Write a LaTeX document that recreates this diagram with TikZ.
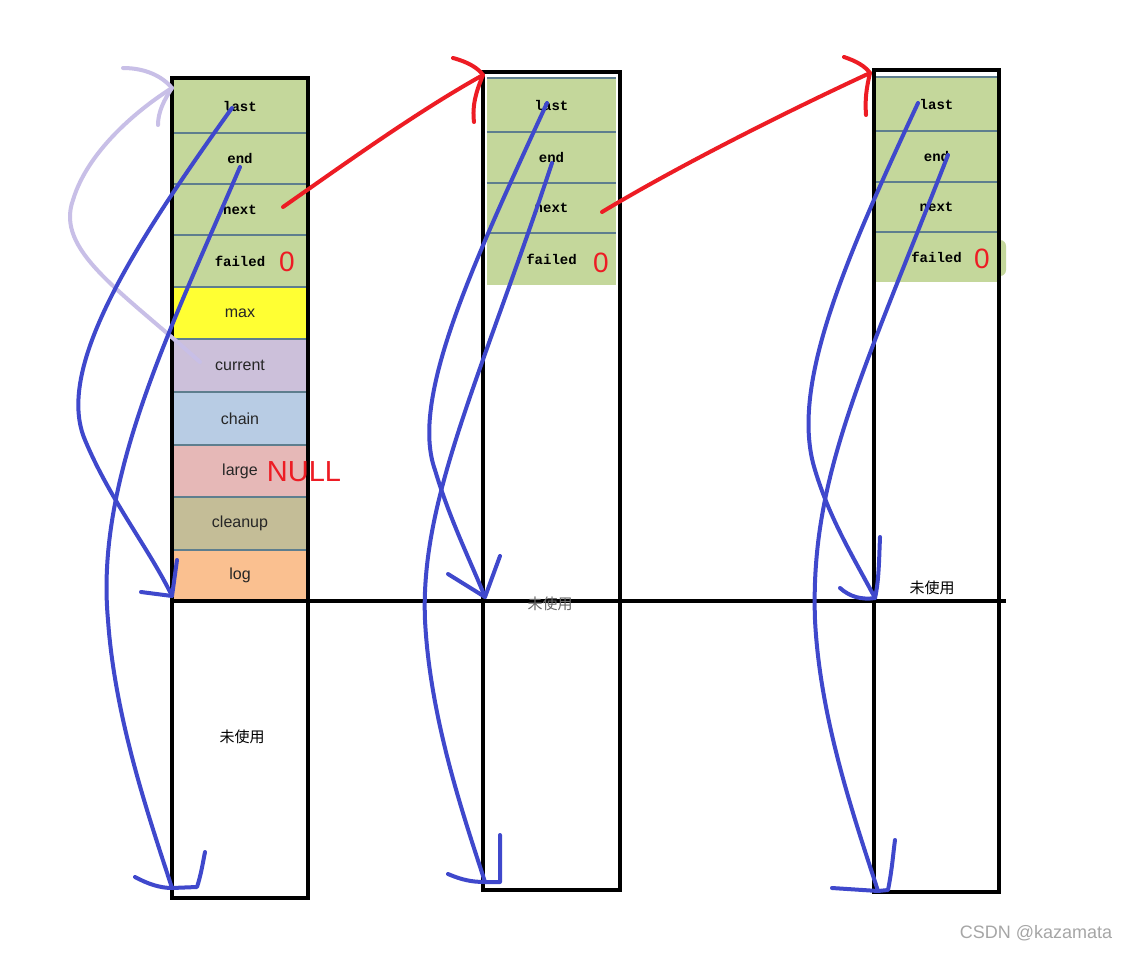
\documentclass[tikz,border=0pt]{standalone}
\usepackage{fontspec}
\setmainfont{Liberation Sans}
\newfontfamily\monof{Liberation Mono}
\newfontfamily\cjk{Noto Sans CJK SC}
\definecolor{cellgreen}{RGB}{196,215,155}
\definecolor{cellyellow}{RGB}{255,255,51}
\definecolor{cellpurple}{RGB}{204,192,218}
\definecolor{cellblue}{RGB}{184,204,228}
\definecolor{cellpink}{RGB}{230,184,183}
\definecolor{celltan}{RGB}{196,189,151}
\definecolor{cellorange}{RGB}{250,192,144}
\definecolor{sepline}{RGB}{94,126,142}
\definecolor{inkblue}{RGB}{63,72,204}
\definecolor{inkred}{RGB}{237,28,36}
\definecolor{inklav}{RGB}{200,191,231}
\begin{document}
\begin{tikzpicture}[x=1pt,y=-1pt,
  cellA/.style={inner sep=0pt, minimum width=132pt, font=\monof\bfseries\fontsize{14}{14}\selectfont},
  cellS/.style={inner sep=0pt, minimum width=132pt, font=\fontsize{16}{16}\selectfont, text=black!85},
  cellB/.style={inner sep=0pt, minimum width=129pt, font=\monof\bfseries\fontsize{14}{14}\selectfont},
  cellC/.style={inner sep=0pt, minimum width=121pt, font=\monof\bfseries\fontsize{14}{14}\selectfont},
  sep/.style={draw=sepline, line width=2pt},
  boxline/.style={draw=black, line width=4pt},
  zero/.style={text=inkred, font=\fontsize{28}{28}\selectfont, inner sep=0pt},
  unused/.style={font=\cjk\fontsize{15}{15}\selectfont, inner sep=0pt},
  blueink/.style={draw=inkblue, line width=4pt, line cap=round, line join=round},
  redink/.style={draw=inkred, line width=4pt, line cap=round, line join=round},
  lavink/.style={draw=inklav, line width=4pt, line cap=round, line join=round}]
\useasboundingbox (0,0) rectangle (1127,953);
\fill[white] (0,0) rectangle (1127,953);

% ---- box 1 cells
\node[cellA, fill=cellgreen, minimum height=53pt] (alast) at (240,106.5) {last};
\node[cellA, fill=cellgreen, minimum height=51pt] (aend) at (240,158.5) {end};
\node[cellA, fill=cellgreen, minimum height=51pt] (anext) at (240,209.5) {next};
\node[cellA, fill=cellgreen, minimum height=52pt] (afailed) at (240,261) {failed};
\node[cellS, fill=cellyellow, minimum height=52pt] (amax) at (240,313) {max};
\node[cellS, fill=cellpurple, minimum height=53pt] (acurrent) at (240,365.5) {current};
\node[cellS, fill=cellblue, minimum height=53pt] (achain) at (240,418.5) {chain};
\node[cellS, fill=cellpink, minimum height=52pt] (alarge) at (240,471) {large};
\node[cellS, fill=celltan, minimum height=53pt] (acleanup) at (240,523.5) {cleanup};
\node[cellS, fill=cellorange, minimum height=50pt] (alog) at (240,575) {log};
\foreach \c in {alast,aend,anext,afailed,amax,acurrent,achain,alarge,acleanup}
  \draw[sep] (\c.south west) -- (\c.south east);

% ---- box 2 cells
\node[cellB, fill=cellgreen, minimum height=54pt] (blast) at (551.5,105) {last};
\node[cellB, fill=cellgreen, minimum height=51pt] (bend) at (551.5,157.5) {end};
\node[cellB, fill=cellgreen, minimum height=50pt] (bnext) at (551.5,208) {next};
\node[cellB, fill=cellgreen, minimum height=52pt] (bfailed) at (551.5,259) {failed};
\foreach \c in {blast,bend,bnext}
  \draw[sep] (\c.south west) -- (\c.south east);
\draw[sep] (blast.north west) -- (blast.north east);

% ---- box 3 cells
\fill[cellgreen, rounded corners=6pt] (990,240) rectangle (1006,276);
\node[cellC, fill=cellgreen, minimum height=54pt] (clast) at (936.5,104) {last};
\node[cellC, fill=cellgreen, minimum height=51pt] (cend) at (936.5,156.5) {end};
\node[cellC, fill=cellgreen, minimum height=50pt] (cnext) at (936.5,207) {next};
\node[cellC, fill=cellgreen, minimum height=50pt] (cfailed) at (936.5,257) {failed};
\foreach \c in {clast,cend,cnext}
  \draw[sep] (\c.south west) -- (\c.south east);
\draw[sep] (clast.north west) -- (clast.north east);

% ---- outlines
\draw[boxline] (172,78) rectangle (308,898);
\draw[boxline] (483,72) rectangle (620,890);
\draw[boxline] (874,70) rectangle (999,892);
\coordinate (baseL) at (172,601);
\coordinate (baseR) at (1006,601);
\draw[boxline] (baseL) -- (baseR);

% ---- labels
\node[zero] (azero) at (287,262) {0};
\node[zero] (bzero) at (601,263) {0};
\node[zero] (czero) at (982,259) {0};
\node[text=inkred, font=\fontsize{29}{29}\selectfont, inner sep=0pt] (null) at (304,472) {NULL};
\node[unused] (aunused) at (242,737) {未使用};
\node[unused, text=black!60] (bunused) at (550,604) {未使用};
\node[unused] (cunused) at (932,588) {未使用};
\node[text=black!35, font=\fontsize{18}{18}\selectfont, inner sep=0pt] (mark) at (1036,933) {CSDN @kazamata};

% ---- lavender arrow
\coordinate (lavS) at (200,362);
\coordinate (lavE) at (172,88);
\draw[lavink] (lavS) .. controls (120,290) and (55,250) .. (73,200) .. controls (88,150) and (140,108) .. (lavE);
\draw[lavink] (123,68) .. controls (145,68) and (162,76) .. (lavE) .. controls (164,100) and (158,112) .. (158,125);

% ---- red arrows
\coordinate (rA1) at (283,207);
\coordinate (rA2) at (483,75);
\draw[redink] (rA1) .. controls (350,160) and (420,110) .. (rA2);
\draw[redink] (453,58) .. controls (468,62) and (478,68) .. (rA2) .. controls (476,92) and (472,105) .. (474,122);
\coordinate (rB1) at (602,212);
\coordinate (rB2) at (870,73);
\draw[redink] (rB1) .. controls (680,165) and (790,110) .. (rB2);
\draw[redink] (844,57) .. controls (856,61) and (865,66) .. (rB2) .. controls (866,90) and (865,100) .. (866,115);

% ---- blue arrows, box 1
\coordinate (a1s) at (232,108);
\coordinate (a1e) at (172,596);
\draw[blueink] (a1s) .. controls (130,250) and (55,370) .. (85,440) .. controls (110,500) and (150,550) .. (a1e);
\draw[blueink] (141,592) -- (a1e) -- (177,560);
\coordinate (a2s) at (240,167);
\coordinate (a2e) at (172,888);
\draw[blueink] (a2s) .. controls (170,330) and (95,480) .. (108,620) .. controls (115,720) and (150,820) .. (a2e);
\draw[blueink] (135,877) .. controls (148,884) and (160,888) .. (a2e) -- (197,887) .. controls (201,875) and (203,862) .. (205,852);

% ---- blue arrows, box 2
\coordinate (b1s) at (547,103);
\coordinate (b1e) at (485,597);
\draw[blueink] (b1s) .. controls (470,270) and (410,400) .. (435,470) .. controls (450,520) and (470,560) .. (b1e);
\draw[blueink] (448,574) -- (b1e) -- (500,556);
\coordinate (b2s) at (552,163);
\coordinate (b2e) at (485,882);
\draw[blueink] (b2s) .. controls (480,380) and (420,500) .. (425,620) .. controls (430,720) and (465,820) .. (b2e);
\draw[blueink] (448,874) .. controls (462,880) and (472,882) .. (b2e) -- (500,882) -- (500,835);

% ---- blue arrows, box 3
\coordinate (c1s) at (918,103);
\coordinate (c1e) at (875,598);
\draw[blueink] (c1s) .. controls (840,270) and (790,390) .. (815,470) .. controls (830,520) and (855,560) .. (c1e);
\draw[blueink] (840,588) .. controls (850,597) and (862,600) .. (c1e) .. controls (879,580) and (879,560) .. (880,537);
\coordinate (c2s) at (948,155);
\coordinate (c2e) at (878,891);
\draw[blueink] (c2s) .. controls (860,380) and (810,480) .. (815,620) .. controls (820,720) and (855,820) .. (c2e);
\draw[blueink] (832,888) -- (c2e) -- (888,890) .. controls (892,870) and (893,855) .. (895,840);
\end{tikzpicture}
\end{document}
